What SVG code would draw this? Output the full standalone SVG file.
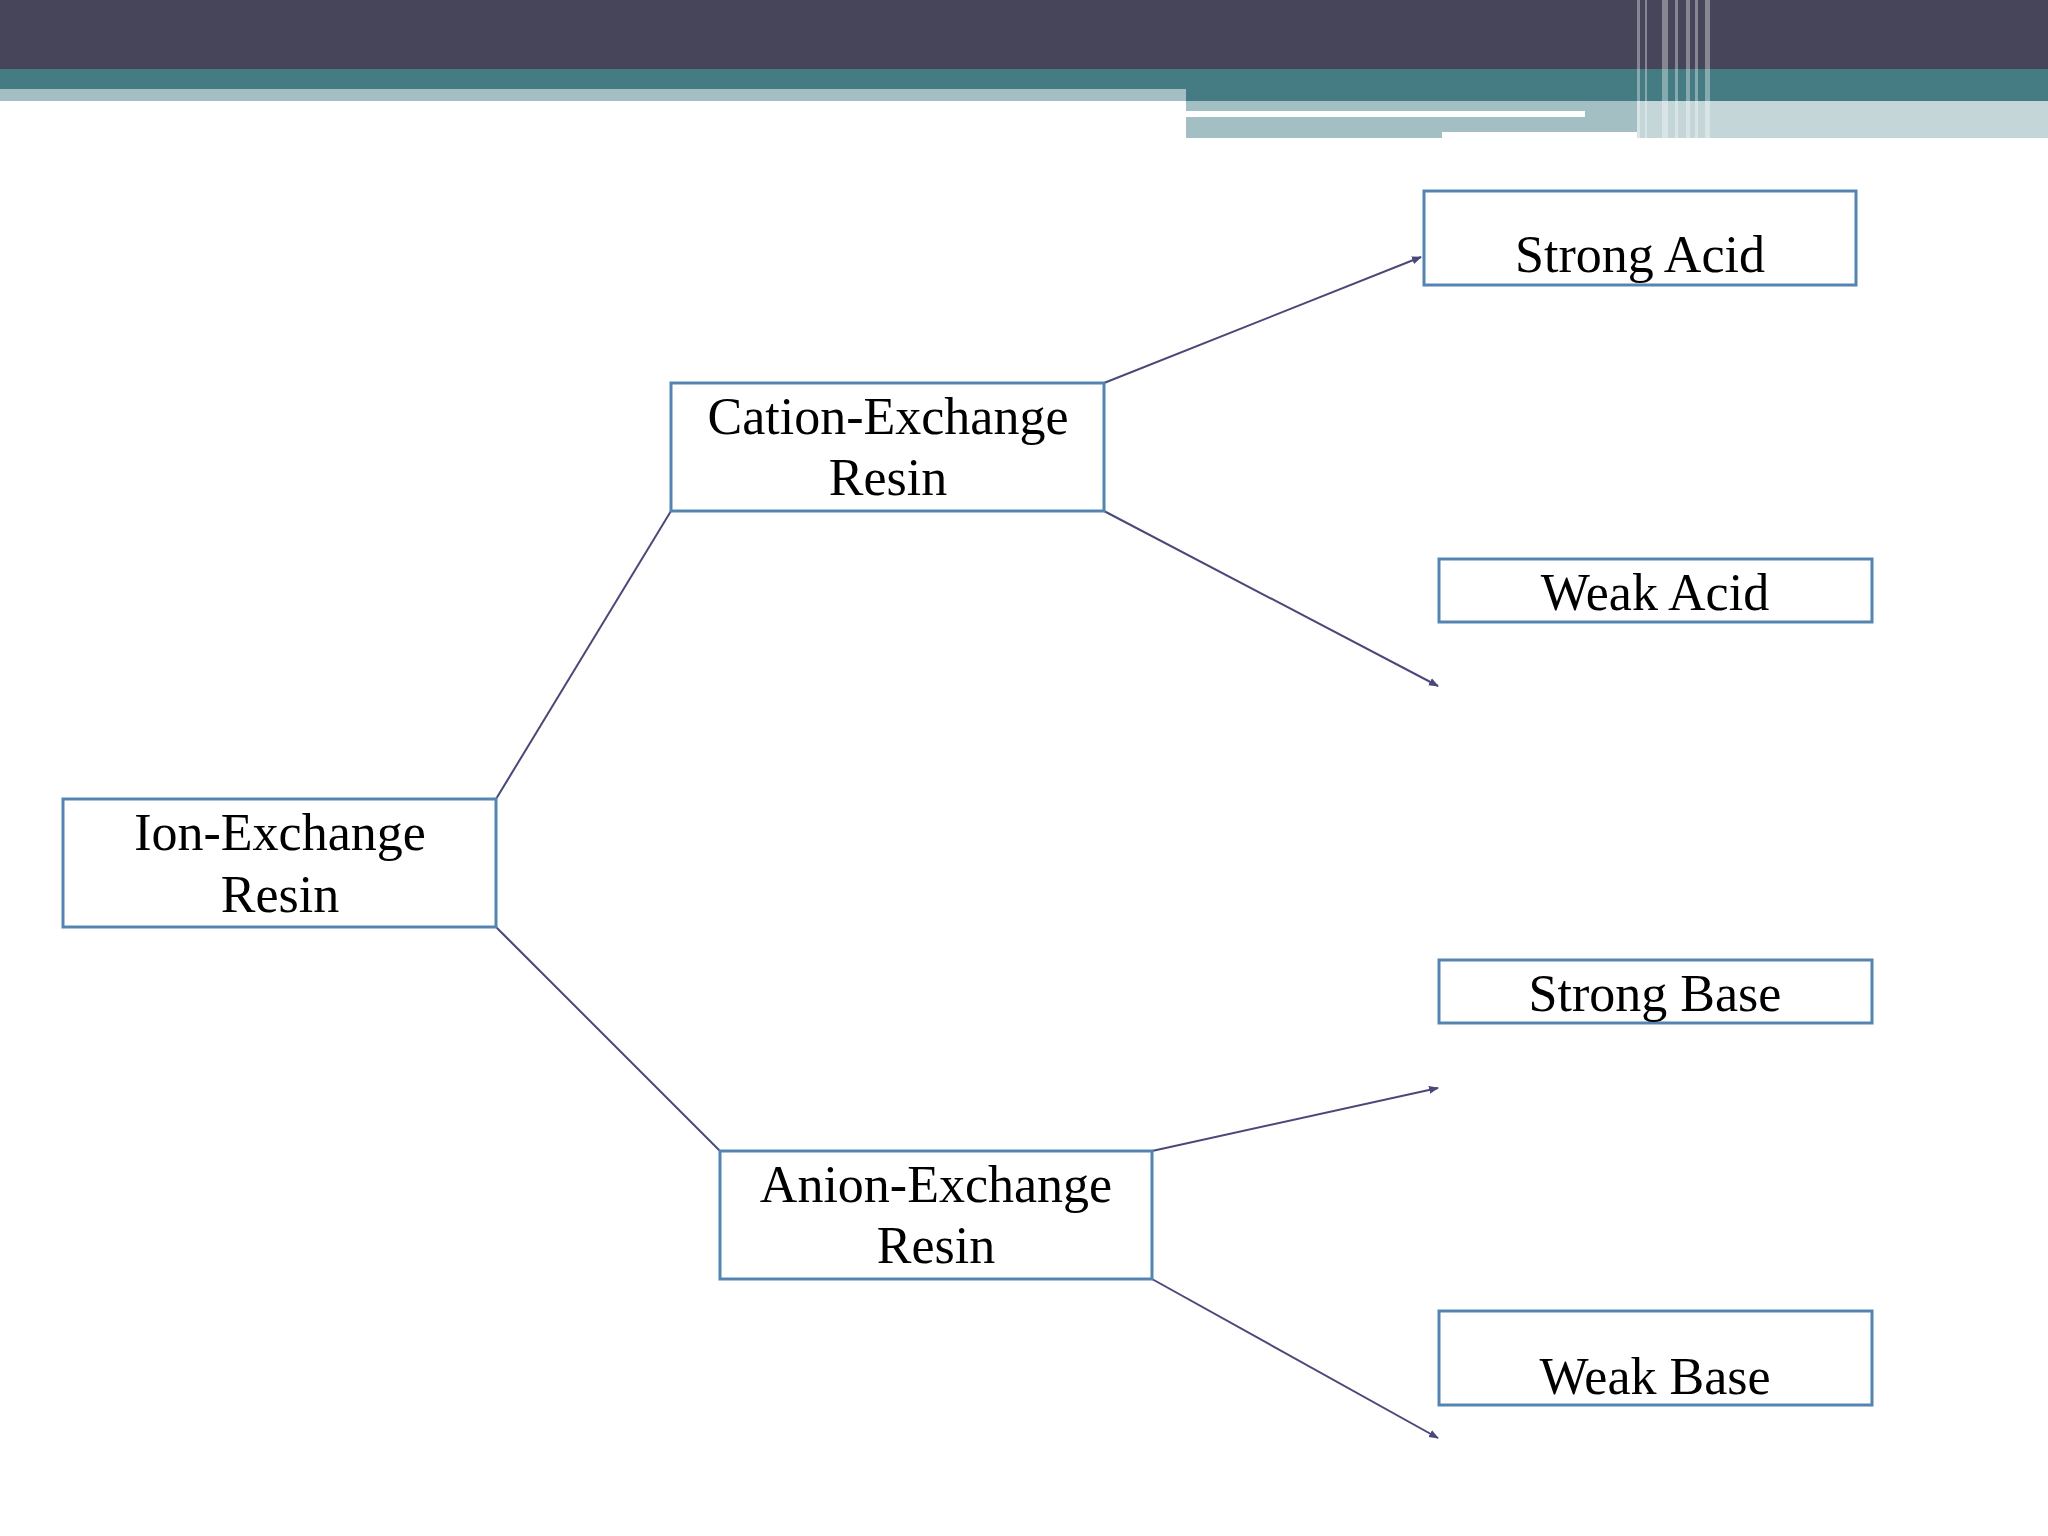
<svg xmlns="http://www.w3.org/2000/svg" width="2048" height="1536" viewBox="0 0 2048 1536">
<style>
.box{fill:#fff;stroke:#5485b0;stroke-width:3}
.t{font-family:"Liberation Serif","DejaVu Serif",serif;font-size:52px;fill:#000;text-anchor:middle}
.c{stroke:#4a4878;stroke-width:2;fill:none;marker-end:url(#a)}
</style>
<defs><marker id="a" viewBox="0 0 10 10" refX="9" refY="5" markerWidth="5" markerHeight="5" orient="auto"><path d="M0,1 L10,5 L0,9 z" fill="#4a4878"/></marker></defs>
<rect width="2048" height="1536" fill="#fff"/>
<g id="header">
<rect x="0" y="0" width="2048" height="69" fill="#464559"/>
<rect x="0" y="69" width="2048" height="20" fill="#457c83"/>
<rect x="1186" y="89" width="862" height="12" fill="#457c83"/>
<rect x="0" y="89" width="1186" height="12" fill="#a3bfc4"/>
<rect x="1186" y="101" width="465" height="31" fill="#a3bfc4"/>
<rect x="1186" y="132" width="256" height="6" fill="#a3bfc4"/>
<rect x="1186" y="111" width="399" height="6" fill="#fff"/>
<rect x="1637" y="101" width="411" height="37" fill="#c5d6d9"/>
<g fill="#fff" opacity="0.35">
<rect x="1637" y="0" width="3" height="138"/><rect x="1645" y="0" width="2" height="138"/>
<rect x="1662" y="0" width="6" height="138"/><rect x="1675" y="0" width="3" height="138"/>
<rect x="1686" y="0" width="4" height="138"/><rect x="1695" y="0" width="3" height="138"/>
<rect x="1705" y="0" width="5" height="138"/>
</g>
</g>
<g id="connectors">
<line class="c" x1="496" y1="799" x2="671" y2="511" style="marker-end:none"/>
<line class="c" x1="496" y1="927" x2="720" y2="1151" style="marker-end:none"/>
<line class="c" x1="1104" y1="383" x2="1421" y2="257"/>
<line class="c" x1="1104" y1="511" x2="1438" y2="686"/>
<line class="c" x1="1152" y1="1151" x2="1438" y2="1088"/>
<line class="c" x1="1152" y1="1279" x2="1438" y2="1438"/>
</g>
<g id="ion"><rect class="box" x="63" y="799" width="433" height="128"/><text class="t" x="280" y="850">Ion-Exchange</text><text class="t" x="280" y="912">Resin</text></g>
<g id="cation"><rect class="box" x="671" y="383" width="433" height="128"/><text class="t" x="888" y="434">Cation-Exchange</text><text class="t" x="888" y="495">Resin</text></g>
<g id="anion"><rect class="box" x="720" y="1151" width="432" height="128"/><text class="t" x="936" y="1202">Anion-Exchange</text><text class="t" x="936" y="1263">Resin</text></g>
<g id="strongacid"><rect class="box" x="1424" y="191" width="432" height="94"/><text class="t" x="1640" y="272">Strong Acid</text></g>
<g id="weakacid"><rect class="box" x="1439" y="559" width="433" height="63"/><text class="t" x="1655" y="610">Weak Acid</text></g>
<g id="strongbase"><rect class="box" x="1439" y="960" width="433" height="63"/><text class="t" x="1655" y="1011">Strong Base</text></g>
<g id="weakbase"><rect class="box" x="1439" y="1311" width="433" height="94"/><text class="t" x="1655" y="1394">Weak Base</text></g>
</svg>
